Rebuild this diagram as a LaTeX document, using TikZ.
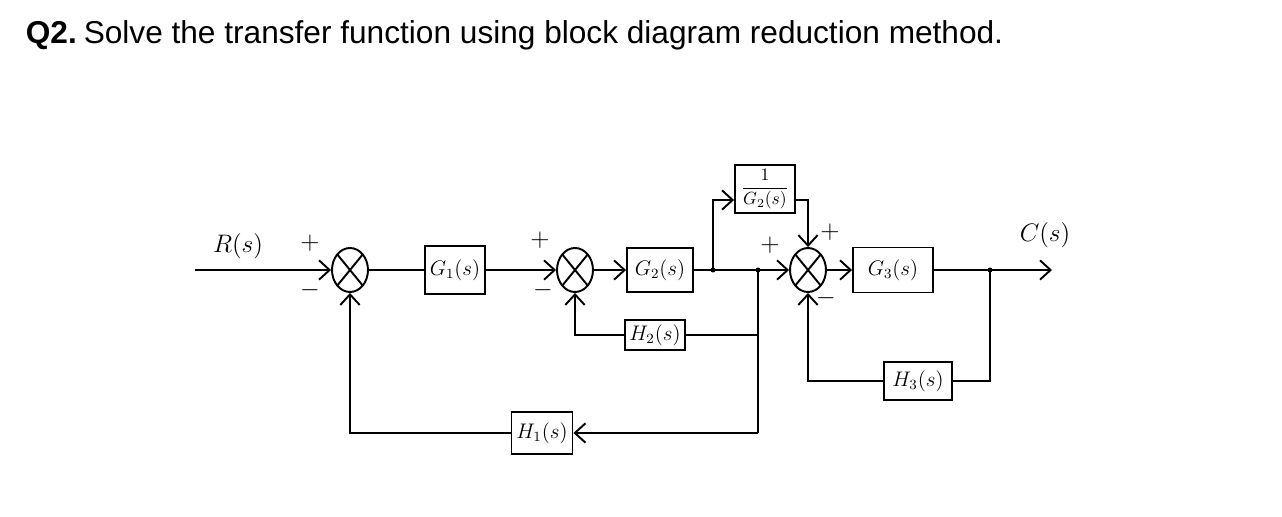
\documentclass[tikz,border=0pt]{standalone}
\usepackage{fontspec}
\setmainfont{Liberation Sans}
\usetikzlibrary{arrows.meta,shapes.geometric}
\begin{document}
\begin{tikzpicture}[x=0.02cm,y=-0.02cm,line width=1.1pt,
  blk/.style={draw,rectangle,inner sep=0pt,font=\large},
  sum/.style={draw,ellipse,minimum width=0.72cm,minimum height=0.88cm,inner sep=0pt,
    path picture={\draw (path picture bounding box.north west) -- (path picture bounding box.south east) (path picture bounding box.north east) -- (path picture bounding box.south west);}},
  arr/.style={-{Straight Barb[length=6pt,width=11pt]}},
  sgn/.style={font=\Large}]
\useasboundingbox (0,0) rectangle (1282,517);
\node[anchor=west,font=\fontsize{18}{22}\selectfont] (title) at (19,35) {\textbf{Q2.}\hspace{-0.15em} Solve the transfer function using block diagram reduction method.};
% summing junctions
\node[sum] (s1) at (350,270) {};
\node[sum] (s2) at (575,270) {};
\node[sum] (s3) at (808,270) {};
% blocks
\node[blk,minimum width=1.2cm,minimum height=0.96cm] (g1) at (455,270) {$G_1(s)$};
\node[blk,minimum width=1.32cm,minimum height=0.88cm] (g2) at (660,270) {$G_2(s)$};
\node[blk,minimum width=1.2cm,minimum height=0.96cm,font=\normalsize] (gi) at (765,189) {$\displaystyle\frac{1}{G_2(s)}$};
\node[blk,minimum width=1.6cm,minimum height=0.9cm] (g3) at (893,270) {$G_3(s)$};
\node[blk,minimum width=1.2cm,minimum height=0.6cm] (h2) at (655,335) {$H_2(s)$};
\node[blk,minimum width=1.22cm,minimum height=0.84cm] (h1) at (542,433) {$H_1(s)$};
\node[blk,minimum width=1.36cm,minimum height=0.76cm] (h3) at (918,381) {$H_3(s)$};
% coordinates
\coordinate (rin) at (195,270);
\coordinate (b1) at (713,270);
\coordinate (b1t) at (713,200);
\coordinate (b2) at (758,270);
\coordinate (b2a) at (758,335);
\coordinate (b2b) at (758,433);
\coordinate (gio) at (808,200);
\coordinate (b3) at (990,270);
\coordinate (cout) at (1052,270);
\coordinate (b3d) at (990,381);
% signals
\draw[arr] (rin) -- (s1.west);
\draw (s1.east) -- (g1.west);
\draw[arr] (g1.east) -- (s2.west);
\draw[arr] (s2.east) -- (g2.west);
\draw[arr] (g2.east) -- (s3.west);
\draw[arr] (b1) -- (b1t) -- (gi.west |- b1t);
\draw[arr] (gi.east |- gio) -- (gio) -- (s3.north);
\draw (b2) -- (b2a) -- (h2.east);
\draw (b2a) -- (b2b);
\draw[arr] (b2b) -- (h1.east);
\draw[arr] (h2.west) -| (s2.south);
\draw[arr] (h1.west) -| (s1.south);
\draw[arr] (s3.east) -- (g3.west);
\draw[arr] (g3.east) -- (cout);
\draw (b3) -- (b3d) -- (h3.east);
\draw[arr] (h3.west) -| (s3.south);
\fill (b1) circle (2.5) (b2) circle (2.5) (b3) circle (2.5);
% labels
\node[font=\Large] (rl) at (238,246) {$R(s)$};
\node[font=\Large] (cl) at (1045,235) {$C(s)$};
\node[sgn] (p1) at (310,243) {$+$};
\node[sgn] (m1) at (310,290) {$-$};
\node[sgn] (p2) at (540,240) {$+$};
\node[sgn] (m2) at (543,290) {$-$};
\node[sgn] (p3) at (770,245) {$+$};
\node[sgn] (p4) at (830,232) {$+$};
\node[sgn] (m3) at (826,298) {$-$};
\end{tikzpicture}
\end{document}
